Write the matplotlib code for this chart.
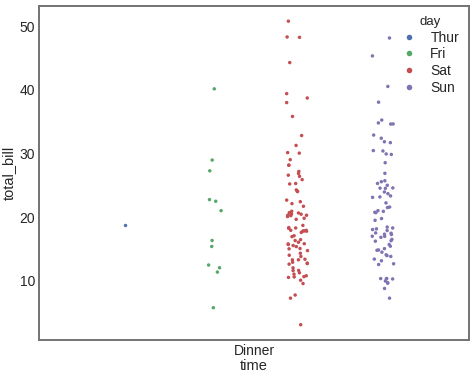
import matplotlib
matplotlib.use("Agg")
import matplotlib.pyplot as plt
import numpy as np
import pandas as pd
import seaborn as sns

# total_bill values for the Dinner rows, per day
thur = [18.78]
fri = [28.97, 22.49, 5.75, 16.32, 22.75, 40.17, 27.28, 12.03, 21.01, 12.46,
       11.35, 15.38]
sat = [20.65, 17.92, 20.29, 15.77, 39.42, 19.82, 17.81, 13.37, 12.69, 21.70,
       19.65, 9.55, 18.35, 15.06, 20.69, 17.78, 24.06, 16.31, 16.93, 18.69,
       31.27, 16.04,
       38.01, 26.41, 11.24, 48.27, 20.29, 13.81, 11.02, 18.29, 17.59, 20.08,
       16.45, 3.07, 20.23, 15.01, 12.02, 17.07, 26.86, 25.28, 14.73, 10.51,
       17.92,
       44.30, 22.42, 20.92, 15.36, 20.49, 25.21, 18.24, 14.31, 14.00, 7.25,
       10.59, 10.63, 50.81, 15.81,
       26.59, 38.73, 24.27, 12.76, 30.06, 25.89, 48.33, 13.27, 28.17, 12.90,
       28.15, 11.59, 7.74, 30.14,
       20.45, 13.28, 22.12, 24.01, 15.69, 11.61, 10.77, 15.53, 10.07, 12.60,
       32.83, 35.83, 29.03, 27.18, 22.67, 17.82]
sun = [16.99, 10.34, 21.01, 23.68, 24.59, 25.29, 8.77, 26.88, 15.04, 14.78,
       10.27, 35.26, 15.42, 18.43, 14.83, 21.58, 10.33, 16.29, 16.97,
       17.46, 13.94, 9.68, 30.40, 18.29, 22.23, 32.40, 28.55, 18.04, 12.54,
       10.29, 34.81, 9.94, 25.56, 19.49,
       38.07, 23.95, 25.71, 17.31, 29.93,
       14.07, 13.13, 17.26, 24.55, 19.77, 29.85, 48.17, 25.00, 13.39, 16.49,
       21.50, 12.66, 16.21, 13.81, 17.51, 24.52, 20.76, 31.71,
       7.25, 31.85, 16.82, 32.90, 17.89, 14.48, 9.60, 34.63, 34.65, 23.33,
       45.35, 23.17, 40.55, 20.69, 20.90, 30.46, 18.15, 23.10, 15.69]

days = ["Thur", "Fri", "Sat", "Sun"]
colors = ["#4C72B0", "#55A868", "#C44E52", "#8172B2"]

bills = thur + fri + sat + sun
day_col = (["Thur"] * len(thur) + ["Fri"] * len(fri)
           + ["Sat"] * len(sat) + ["Sun"] * len(sun))
tips = pd.DataFrame({"total_bill": bills, "day": day_col, "time": "Dinner"})

sns.set_style("white")
plt.rcParams["font.family"] = ["Liberation Sans", "DejaVu Sans"]
plt.rcParams["axes.edgecolor"] = "0.45"
plt.rcParams["axes.linewidth"] = 1.4

np.random.seed(0)
fig, ax = plt.subplots(figsize=(4.74, 3.76), dpi=100)
fig.subplots_adjust(left=0.083, right=0.989, top=0.984, bottom=0.096)

sns.stripplot(data=tips, x="time", y="total_bill", hue="day",
              hue_order=days, palette=colors, dodge=True, jitter=True,
              size=2.5, linewidth=0, ax=ax)

ax.set_xlabel("time", fontsize=10.5, labelpad=1)
ax.set_ylabel("total_bill", fontsize=10.5, labelpad=3)
ax.tick_params(labelsize=10, length=0, pad=3)
ax.set_yticks([10, 20, 30, 40, 50])

leg = ax.legend(title="day", loc="upper right", frameon=False,
                fontsize=10, title_fontsize=9.5, markerscale=1.6,
                handlelength=1.2, handletextpad=0.9, labelspacing=0.2,
                borderaxespad=0.3, bbox_to_anchor=(1.0, 1.0))

fig.savefig("out.png", dpi=100)
